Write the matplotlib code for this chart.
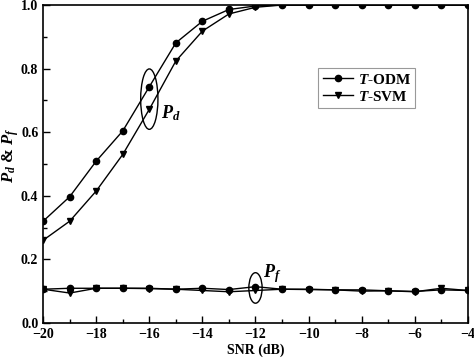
import matplotlib
matplotlib.use("Agg")
import matplotlib.pyplot as plt
from matplotlib.patches import Ellipse
from matplotlib.ticker import MultipleLocator

snr = [-20, -19, -18, -17, -16, -15, -14, -13, -12, -11, -10, -9, -8, -7, -6, -5, -4]
pd_odm = [0.32, 0.397, 0.509, 0.604, 0.743, 0.881, 0.949, 0.986, 0.997, 1.0, 1.0, 1.0, 1.0, 1.0, 1.0, 1.0, 1.0]
pd_svm = [0.26, 0.32, 0.415, 0.53, 0.672, 0.824, 0.918, 0.972, 0.993, 1.0, 1.0, 1.0, 1.0, 1.0, 1.0, 1.0, 1.0]
pf_odm = [0.106, 0.109, 0.109, 0.109, 0.109, 0.106, 0.109, 0.105, 0.114, 0.106, 0.106, 0.104, 0.104, 0.101, 0.099, 0.104, 0.102]
pf_svm = [0.106, 0.094, 0.109, 0.109, 0.108, 0.106, 0.102, 0.098, 0.102, 0.106, 0.105, 0.104, 0.100, 0.101, 0.098, 0.109, 0.102]

plt.rcParams['font.family'] = ['Liberation Serif', 'DejaVu Serif']
plt.rcParams['font.weight'] = 'bold'
plt.rcParams['mathtext.fontset'] = 'custom'
plt.rcParams['mathtext.it'] = 'Liberation Serif:bold:italic'
plt.rcParams['mathtext.rm'] = 'Liberation Serif:bold'
plt.rcParams['mathtext.bf'] = 'Liberation Serif:bold'

fig = plt.figure(figsize=(4.74, 3.6), dpi=100)
ax = fig.add_axes([0.091, 0.103, 0.896, 0.883])

lw = 1.0
l1, = ax.plot(snr, pd_odm, '-o', color='black', lw=lw, ms=4.5, label=r'$T$-ODM')
l2, = ax.plot(snr, pd_svm, '-v', color='black', lw=lw, ms=5, label=r'$T$-SVM')
ax.plot(snr, pf_odm, '-o', color='black', lw=lw, ms=4.5)
ax.plot(snr, pf_svm, '-v', color='black', lw=lw, ms=5)

ax.set_xlim(-20, -4)
ax.set_ylim(0, 1.0)
ax.xaxis.set_major_locator(MultipleLocator(2))
ax.xaxis.set_minor_locator(MultipleLocator(1))
ax.yaxis.set_major_locator(MultipleLocator(0.2))
ax.yaxis.set_minor_locator(MultipleLocator(0.1))
ax.tick_params(which='both', direction='in', top=False, right=False, labelsize=10)
ax.tick_params(which='major', length=5, width=1)
ax.tick_params(which='minor', length=3, width=1)
for s in ax.spines.values():
    s.set_linewidth(1.2)
for t in ax.get_xticklabels() + ax.get_yticklabels():
    t.set_fontweight('bold')

ax.set_xlabel('SNR (dB)', fontsize=10, fontweight='bold', labelpad=2)
ax.set_ylabel(r'$P_d$ & $P_f$', fontsize=12, fontweight='bold')
ax.yaxis.set_label_coords(-0.053, 0.528)

ax.add_patch(Ellipse((-16, 0.704), 0.65, 0.19, fill=False, color='black', lw=1))
ax.add_patch(Ellipse((-12, 0.11), 0.5, 0.096, fill=False, color='black', lw=1))
ax.text(-15.55, 0.645, r'$P_d$', fontsize=13)
ax.text(-11.7, 0.145, r'$P_f$', fontsize=13)

leg = ax.legend(handles=[l1, l2], loc='upper left', bbox_to_anchor=(0.647, 0.802),
                borderaxespad=0, frameon=True, fancybox=False, edgecolor='gray', fontsize=11,
                handlelength=2.0, borderpad=0.3, labelspacing=0.2, handletextpad=0.3)
leg.get_frame().set_linewidth(0.8)

fig.savefig('out.png', dpi=100)
